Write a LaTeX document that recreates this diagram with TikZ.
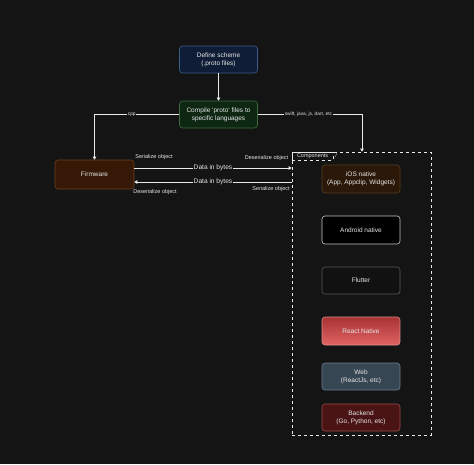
\documentclass[tikz,border=0pt]{standalone}
\usepackage{fontspec}
\setmainfont{Liberation Sans}
\usetikzlibrary{arrows.meta,positioning}
\definecolor{bg}{HTML}{141414}
\definecolor{txt}{HTML}{E6E6E6}
\definecolor{defD}{HTML}{3B5C8C}\definecolor{defF}{HTML}{0F1E36}
\definecolor{cmpD}{HTML}{3D6B3A}\definecolor{cmpF}{HTML}{0E2712}
\definecolor{firD}{HTML}{6B4220}\definecolor{firF}{HTML}{351806}
\definecolor{iosD}{HTML}{5A3C1E}\definecolor{iosF}{HTML}{2B1808}
\definecolor{andD}{HTML}{C8C8C8}\definecolor{andF}{HTML}{000000}
\definecolor{fluD}{HTML}{5A5A5A}\definecolor{fluF}{HTML}{111111}
\definecolor{reaD}{HTML}{E08A8A}\definecolor{reaT}{HTML}{A83232}\definecolor{reaB}{HTML}{E06464}
\definecolor{webD}{HTML}{6A7C8C}\definecolor{webF}{HTML}{374653}
\definecolor{bakD}{HTML}{A04C4C}\definecolor{bakF}{HTML}{4A1414}
\tikzset{
  x=1pt,y=-1pt,
  box/.style={draw, rounded corners=3pt, line width=0.6pt, minimum width=78pt, minimum height=27pt, align=center, text=txt, font=\fontsize{6.5}{8}\selectfont, inner sep=1pt},
  conn/.style={draw=txt!85, line width=0.8pt, -{Triangle[length=3pt,width=3.5pt]}},
  lbl/.style={font=\fontsize{5.5}{6.5}\selectfont, text=txt, inner sep=0.8pt},
  lblbg/.style={lbl, fill=bg},
  biglbl/.style={font=\fontsize{6.6}{8}\selectfont, text=txt, inner sep=0.8pt, fill=bg},
}
\begin{document}
\begin{tikzpicture}
\fill[bg] (0,0) rectangle (474,464);
\useasboundingbox (0,0) rectangle (474,464);
% group
\node[draw=txt!90, dashed, line width=0.6pt, minimum width=139pt, minimum height=283pt, inner sep=0pt] (grp) at (361.5,293.5) {};
\node[draw=txt!90, dashed, line width=0.6pt, anchor=north west, font=\fontsize{5.5}{6.5}\selectfont, text=txt, inner xsep=5pt, inner ysep=1.2pt, minimum height=8pt] (grplbl) at (grp.north west) {Components};
\node[lbl, anchor=west] (slash) at ([xshift=1pt]grplbl.east) {/};
% nodes
\node[box, draw=defD, fill=defF] (def) at (218.5,59.5) {Define scheme\\(.proto files)};
\node[box, draw=cmpD, fill=cmpF] (cmp) at (218.5,114.5) {Compile `proto` files to\\specific languages};
\node[box, draw=firD, fill=firF, minimum width=79pt, minimum height=29pt] (fir) at (94.5,174.5) {Firmware};
\node[box, draw=iosD, fill=iosF, minimum height=28pt] (ios) at (361,179) {iOS native\\(App, Appclip, Widgets)};
\node[box, draw=andD, fill=andF, minimum height=28pt] (and) at (361,230) {Android native};
\node[box, draw=fluD, fill=fluF] (flu) at (361,280.5) {Flutter};
\node[box, draw=reaD, top color=reaT, bottom color=reaB, minimum height=28pt] (rea) at (361,331) {React Native};
\node[box, draw=webD, fill=webF] (web) at (361,376.5) {Web\\(ReactJs, etc)};
\node[box, draw=bakD, fill=bakF] (bak) at (361,417.5) {Backend\\(Go, Python, etc)};
% connectors
\draw[conn] (cmp.west) -| node[lblbg, pos=0.28, font=\fontsize{4.8}{5.5}\selectfont] {cpp} (fir.north);
\draw[conn] (cmp.east) -| node[lblbg, pos=0.243, font=\fontsize{4.8}{5.5}\selectfont] {swift, java, js, dart, etc} (grp.north -| 362,0);
\draw[conn] (def) -- (cmp);
\coordinate (a1) at (fir.east |- 0,168);
\coordinate (a2) at (grp.west |- 0,168);
\coordinate (b1) at (grp.west |- 0,182);
\coordinate (b2) at (fir.east |- 0,182);
\draw[conn] (a1) -- node[biglbl] {Data in bytes} (a2);
\draw[conn] (b1) -- node[biglbl] {Data in bytes} (b2);
\node[lbl] (s1) at (154,157.5) {Serialize object};
\node[lbl] (d1) at (266.5,158.5) {Deserialize object};
\node[lbl] (d2) at (155,192.5) {Deserialize object};
\node[lbl] (s2) at (271,189.5) {Serialize object};
\end{tikzpicture}
\end{document}
